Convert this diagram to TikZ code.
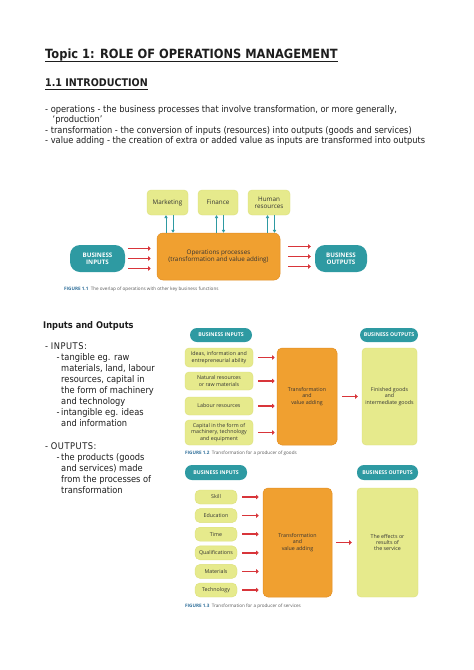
\documentclass[tikz,border=0pt]{standalone}
\usepackage{fontspec}
\setmainfont{DejaVu Sans}[FakeStretch=0.9]
\newfontfamily\figfont{Open Sans}
\usetikzlibrary{arrows.meta}
\definecolor{ygc}{HTML}{E6EA8C}
\definecolor{ygd}{HTML}{DCE07A}
\definecolor{orc}{HTML}{F0A030}
\definecolor{ord}{HTML}{E38E22}
\definecolor{tealc}{HTML}{2E9AA2}
\definecolor{redc}{HTML}{D8353A}
\definecolor{capc}{HTML}{2F6F9A}
\definecolor{txtc}{HTML}{1E1E1E}
\tikzset{
  ygbox/.style={fill=ygc, draw=ygd, line width=0.4pt, rounded corners=4pt, align=center, inner sep=0pt, text=black!80, font=\figfont\fontsize{5.3}{6.3}\selectfont},
  orbox/.style={fill=orc, draw=ord, line width=0.5pt, rounded corners=5pt, align=center, inner sep=0pt, text=black!80, font=\figfont\fontsize{5.3}{6.3}\selectfont},
  tealbox/.style={fill=tealc, draw=none, rounded corners=7pt, align=center, inner sep=0pt, text=white, font=\figfont\bfseries\fontsize{5.2}{6}\selectfont},
  redarr/.style={draw=redc, line width=1.6pt, -{Triangle[length=2.6pt,width=4.4pt]}},
  tarr/.style={draw=tealc, line width=0.8pt, -{Triangle[length=2.8pt,width=3.2pt]}},
  body/.style={anchor=base west, inner sep=0pt, text=txtc, font=\fontsize{9.2}{11}\selectfont},
  capt/.style={anchor=base west, inner sep=0pt, text=black!65, font=\figfont\fontsize{4.6}{5}\selectfont},
}
\begin{document}
\begin{tikzpicture}[x=1pt,y=-1pt]
\fill[white] (0,0) rectangle (474,670);
\useasboundingbox (0,0) rectangle (474,670);

% headings
\node[anchor=base west, inner sep=0pt, text=txtc, font=\bfseries\fontsize{12.7}{16}\selectfont] (title) at (45,58.3) {Topic 1: ROLE OF OPERATIONS MANAGEMENT};
\draw[txtc, line width=0.8pt] ([yshift=-2.6pt]title.base west) -- ([yshift=-2.6pt]title.base east);
\node[anchor=base west, inner sep=0pt, text=txtc, font=\bfseries\fontsize{10.6}{14}\selectfont] (intro) at (45,86.7) {1.1 INTRODUCTION};
\draw[txtc, line width=0.7pt] ([yshift=-2.4pt]intro.base west) -- ([yshift=-2.4pt]intro.base east);

\node[body] (i1) at (45,112) {- operations - the business processes that involve transformation, or more generally,};
\node[body] (i2) at (52.5,122.5) {‘production’};
\node[body] (i3) at (45,133) {- transformation - the conversion of inputs (resources) into outputs (goods and services)};
\node[body] (i4) at (45,143.5) {- value adding - the creation of extra or added value as inputs are transformed into outputs};

% ---------- Figure 1.1
\node[ygbox, minimum width=41pt, minimum height=25pt, font=\figfont\fontsize{6.3}{7.3}\selectfont] (mk) at (167.5,202.5) {Marketing};
\node[ygbox, minimum width=40pt, minimum height=25pt, font=\figfont\fontsize{6.3}{7.3}\selectfont] (fi) at (218,202.5) {Finance};
\node[ygbox, minimum width=42pt, minimum height=25pt, font=\figfont\fontsize{6.3}{7.3}\selectfont] (hr) at (269,202.5) {Human\\resources};
\node[orbox, minimum width=123pt, minimum height=47pt, rounded corners=6pt, font=\figfont\fontsize{6.3}{7.6}\selectfont] (ops) at (218.5,256.5) {Operations processes\\(transformation and value adding)};
\node[tealbox, minimum width=55pt, minimum height=27pt, rounded corners=10pt, font=\figfont\bfseries\fontsize{6.2}{7.2}\selectfont] (bi1) at (97.5,258.5) {BUSINESS\\INPUTS};
\node[tealbox, minimum width=52pt, minimum height=27pt, rounded corners=10pt, font=\figfont\bfseries\fontsize{6.2}{7.2}\selectfont] (bo1) at (341,258.5) {BUSINESS\\OUTPUTS};
\foreach \b in {mk,fi,hr}{
  \draw[tarr] ([xshift=-1.5pt]\b.south |- ops.north) -- ([xshift=-1.5pt]\b.south);
  \draw[tarr] ([xshift=5.5pt]\b.south) -- ([xshift=5.5pt]\b.south |- ops.north);
}
\foreach \dy in {10,0,-10}{
  \draw[redarr, shorten <=3pt, shorten >=6pt] ([yshift=\dy pt]bi1.east) -- ([yshift=\dy pt]bi1.east -| ops.west);
  \draw[redarr, shorten <=8pt, shorten >=4pt] ([yshift=\dy pt]ops.east) -- ([yshift=\dy pt]ops.east -| bo1.west);
}
\node[capt] (c1) at (64,290) {\textcolor{capc}{\bfseries FIGURE 1.1}\ \ The overlap of operations with other key business functions};

% ---------- left text
\node[anchor=base west, inner sep=0pt, text=txtc, font=\bfseries\fontsize{9.2}{11}\selectfont] (io) at (43,328.5) {Inputs and Outputs};
\node[body] (inp) at (45,349) {- \addfontfeature{LetterSpace=6}INPUTS:};
\node[body] (d1) at (56.5,360) {-};
\foreach \t [count=\i from 0] in {tangible eg. raw,{materials, land, labour},{resources, capital in},the form of machinery,and technology}
  \node[body] (a\i) at (61,360+11*\i) {\t};
\node[body] (d2) at (56.5,415.5) {-};
\foreach \t [count=\i from 0] in {intangible eg. ideas,and information}
  \node[body] (b\i) at (61,415.5+11*\i) {\t};
\node[body] (outp) at (45,449) {- \addfontfeature{LetterSpace=6}OUTPUTS:};
\node[body] (d3) at (56.5,460.5) {-};
\foreach \t [count=\i from 0] in {the products (goods,and services) made,from the processes of,transformation}
  \node[body] (c\i) at (61,460.5+11*\i) {\t};

% ---------- Figure 1.2
\node[tealbox, minimum width=62pt, minimum height=14pt] (bi2) at (221,335) {BUSINESS INPUTS};
\node[tealbox, minimum width=58pt, minimum height=14pt] (bo2) at (389,335) {BUSINESS OUTPUTS};
\node[ygbox, minimum width=68pt, minimum height=19pt] (g1) at (219,357.5) {Ideas, information and\\entrepreneurial ability};
\node[ygbox, minimum width=68pt, minimum height=18pt] (g2) at (219,381) {Natural resources\\or raw materials};
\node[ygbox, minimum width=68pt, minimum height=18pt] (g3) at (219,406) {Labour resources};
\node[ygbox, minimum width=68pt, minimum height=25pt] (g4) at (219,432.5) {Capital in the form of\\machinery, technology\\and equipment};
\node[orbox, minimum width=60pt, minimum height=97pt] (t2) at (307,396.5) {Transformation\\and\\value adding};
\node[ygbox, minimum width=55pt, minimum height=97pt] (o2) at (389.5,396.5) {Finished goods\\and\\intermediate goods};
\foreach \g in {g1,g2,g3,g4}
  \draw[redarr, shorten <=5pt, shorten >=2pt] (\g.east) -- (\g.east -| t2.west);
\draw[redarr, shorten <=5pt, shorten >=4pt] (t2.east) -- (o2.west);
\node[capt] (c2) at (185,454) {\textcolor{capc}{\bfseries FIGURE 1.2}\ \ Transformation for a producer of goods};

% ---------- Figure 1.3
\node[tealbox, minimum width=62pt, minimum height=15pt] (bi3) at (216,472.5) {BUSINESS INPUTS};
\node[tealbox, minimum width=61pt, minimum height=15pt] (bo3) at (387.5,472.5) {BUSINESS OUTPUTS};
\foreach \t [count=\i from 0] in {Skill,Education,Time,Qualifications,Materials,Technology}
  \node[ygbox, minimum width=42pt, minimum height=14pt, rounded corners=5pt] (s\i) at (216,497+18.6*\i) {\t};
\node[orbox, minimum width=69pt, minimum height=109pt] (t3) at (297.5,542.5) {Transformation\\and\\value adding};
\node[ygbox, minimum width=61pt, minimum height=109pt] (o3) at (387.5,542.5) {The effects or\\results of\\the service};
\foreach \i in {0,...,5}
  \draw[redarr, shorten <=5pt, shorten >=4pt] (s\i.east) -- (s\i.east -| t3.west);
\draw[redarr, shorten <=4pt, shorten >=5pt] (t3.east) -- (o3.west);
\node[capt] (c3) at (185,607) {\textcolor{capc}{\bfseries FIGURE 1.3}\ \ Transformation for a producer of services};
\end{tikzpicture}
\end{document}
